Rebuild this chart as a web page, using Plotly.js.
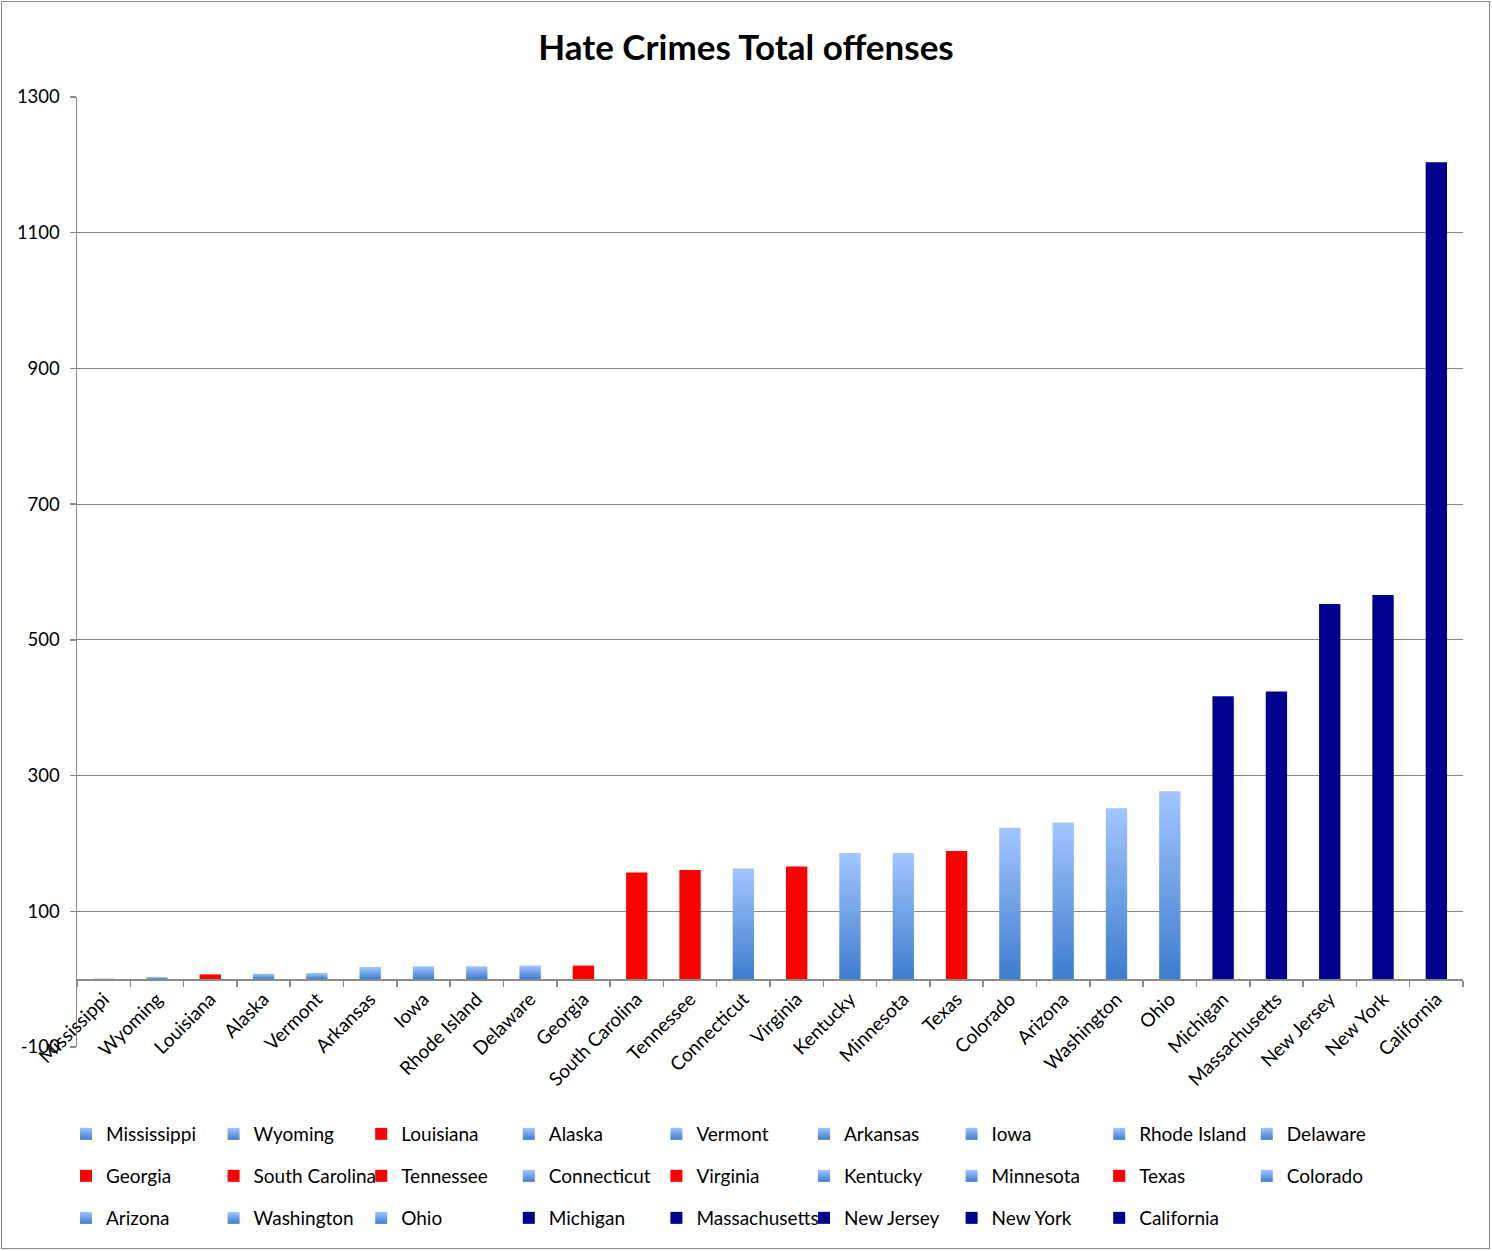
<!DOCTYPE html>
<html>
<head>
<meta charset="utf-8">
<script src="https://cdn.plot.ly/plotly-3.0.1.min.js"></script>
<style>
  html, body { margin: 0; padding: 0; background: #fff; }
  #chart { width: 1492px; height: 1251px; }
  #frame { position: absolute; left: 1px; top: 1px; width: 1487px; height: 1246px; border: 1px solid #8a8a8a; pointer-events: none; }
</style>
</head>
<body>
<div id="chart"></div>
<div id="frame"></div>
<script>
const states = ["Mississippi","Wyoming","Louisiana","Alaska","Vermont","Arkansas","Iowa","Rhode Island","Delaware","Georgia","South Carolina","Tennessee","Connecticut","Virginia","Kentucky","Minnesota","Texas","Colorado","Arizona","Washington","Ohio","Michigan","Massachusetts","New Jersey","New York","California"];
const offenses = [1,3,7,8,9,18,19,19,20,20,157,161,163,166,186,186,189,223,231,252,277,417,424,553,566,1204];
const colorGroup = ["blue","blue","red","blue","blue","blue","blue","blue","blue","red","red","red","blue","red","blue","blue","red","blue","blue","blue","blue","navy","navy","navy","navy","navy"];
const yTicks = [-100,100,300,500,700,900,1100,1300];

const groupColors = { blue: "#6b9ee3", red: "#ff0000", navy: "#000090" };
const FONT = "Lato, 'Open Sans', sans-serif";

const data = states.map((s, i) => ({
  type: "bar",
  name: s,
  x: [s],
  y: [offenses[i]],
  width: 0.4,
  marker: { color: groupColors[colorGroup[i]], line: { width: 0 } },
  legend: i < 9 ? "legend" : (i < 18 ? "legend2" : "legend3"),
  hoverinfo: "x+y"
}));

function legendCfg(yPix) {
  return {
    orientation: "h",
    xref: "container", yref: "container",
    x: 66 / 1492, xanchor: "left",
    y: 1 - yPix / 1251, yanchor: "middle",
    entrywidth: 102.6, entrywidthmode: "pixels",
    font: { family: FONT, size: 19, color: "#000" },
    bgcolor: "rgba(0,0,0,0)",
    traceorder: "normal"
  };
}

const layout = {
  width: 1492, height: 1251,
  margin: { l: 77, r: 29, t: 97, b: 204 },
  paper_bgcolor: "#fff", plot_bgcolor: "#fff",
  title: {
    text: "Hate Crimes Total offenses",
    font: { family: FONT, size: 35, weight: 700, color: "#000" },
    x: 0.5, xanchor: "center", xref: "container",
    y: 1 - 48 / 1251, yanchor: "middle", yref: "container"
  },
  barmode: "overlay",
  showlegend: true,
  xaxis: {
    type: "category",
    categoryorder: "array", categoryarray: states,
    anchor: "free", position: 100 / 1400,
    showline: true, linecolor: "#8a8a8a", linewidth: 1.5,
    ticks: "outside", tickson: "boundaries", ticklen: 6, tickcolor: "#8a8a8a", tickwidth: 1.5,
    tickangle: -45,
    tickfont: { family: FONT, size: 19, color: "#000" },
    showgrid: false, zeroline: false,
    fixedrange: true
  },
  yaxis: {
    range: [-100, 1300],
    tickvals: yTicks,
    ticktext: yTicks.map(String),
    showline: true, linecolor: "#8a8a8a", linewidth: 1.5,
    ticks: "outside", ticklen: 6, tickcolor: "#8a8a8a", tickwidth: 1.5,
    showgrid: true, gridcolor: "#8a8a8a", gridwidth: 1.2,
    zeroline: false,
    tickfont: { family: FONT, size: 18.5, color: "#000" },
    ticklabelstandoff: 6,
    fixedrange: true
  },
  legend: legendCfg(1134),
  legend2: legendCfg(1176),
  legend3: legendCfg(1218)
};

const gd = document.getElementById("chart");
Plotly.newPlot(gd, data, layout, { displayModeBar: false, staticPlot: true }).then(applyGradient);

function applyGradient() {
  const svg = gd.querySelector("svg.main-svg");
  const NS = "http://www.w3.org/2000/svg";
  let defs = svg.querySelector("defs");
  if (!defs) { defs = document.createElementNS(NS, "defs"); svg.insertBefore(defs, svg.firstChild); }
  const grad = document.createElementNS(NS, "linearGradient");
  grad.setAttribute("id", "lbgrad");
  grad.setAttribute("x1", "0"); grad.setAttribute("y1", "0");
  grad.setAttribute("x2", "0"); grad.setAttribute("y2", "1");
  [["0%", "#a3c6ff"], ["100%", "#3e7ccf"]].forEach(([o, c]) => {
    const st = document.createElementNS(NS, "stop");
    st.setAttribute("offset", o); st.setAttribute("stop-color", c);
    grad.appendChild(st);
  });
  defs.appendChild(grad);
  const isBlue = name => colorGroup[states.indexOf(name)] === "blue";
  gd.querySelectorAll(".barlayer .trace").forEach(tr => {
    const d = tr.__data__;
    const name = d && d[0] && d[0].trace ? d[0].trace.name : null;
    if (name && isBlue(name)) tr.querySelectorAll("path").forEach(p => p.style.fill = "url(#lbgrad)");
  });
  gd.querySelectorAll(".traces").forEach(tr => {
    const d = tr.__data__;
    const name = d && d[0] && d[0].trace ? d[0].trace.name : null;
    if (name && isBlue(name)) tr.querySelectorAll(".legendpoints path").forEach(p => p.style.fill = "url(#lbgrad)");
  });
}
</script>
</body>
</html>
